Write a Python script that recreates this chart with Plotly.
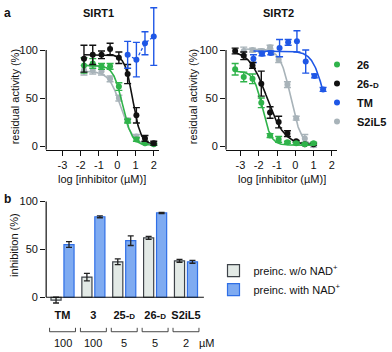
import numpy as np
import plotly.graph_objects as go

W, H = 392, 352
FONT = "Liberation Sans, Arial, sans-serif"

# ---------------- data: panel a, SIRT1 ----------------
s1_log_conc = [-1.82, -1.34, -0.86, -0.39, 0.09, 0.57, 1.05, 1.52, 2.0]
s1_26 = [84, 86, 83, 83, 62, 26, 7, 3, 2]
s1_26_err = [8, 5, 3, 3, 4, 2, 2, 1, 1]
s1_26D = [91, 95, 95, 101, 92, 75, 32, 8, 3]
s1_26D_err = [14, 10, 4, 6, 6, 10, 8, 3, 2]
s1_S2iL5 = [79, 79, 78, 70, 50, 27, 10, 3, 2]
s1_S2iL5_err = [5, 4, 4, 3, 3, 2, 2, 1, 1]
s1_tm_log_conc = [0.57, 1.05, 1.52, 2.0]
s1_TM = [95, 90, 107, 114]
s1_TM_err = [14, 18, 12, 30]

# fit parameters [top, bottom, logIC50, hill]
s1_fit_26 = [84, 1, 0.3, 1.7]
s1_fit_26D = [95, 2, 0.85, 2.0]
s1_fit_S2iL5 = [78, 1, 0.22, 1.3]

# ---------------- data: panel a, SIRT2 ----------------
s2_log_conc = [-3.29, -2.82, -2.34, -1.86, -1.38, -0.91, -0.43, 0.05, 0.52, 1.0]
s2_26 = [80, 72, 70, 45, 11, 7, 4, 3, 2, 3]
s2_26_err = [6, 5, 5, 5, 2, 3, 1, 1, 1, 1]
s2_26D = [99, 94, 84, 65, 35, 25, 13, 5, 2, 2]
s2_26D_err = [3, 4, 3, 13, 6, 6, 3, 1, 1, 1]
s2_s2il5_log_conc = [-2.82, -2.34, -1.86, -1.38, -0.91, -0.43, 0.05, 0.52, 1.0]
s2_S2iL5 = [99, 100, 99, 103, 90, 64, 29, 8, 1]
s2_S2iL5_err = [4, 2, 2, 2, 3, 3, 2, 4, 2]
s2_tm_log_conc = [-2.29, -1.82, -1.34, -0.86, -0.39, 0.09, 0.57, 1.05, 1.52]
s2_TM = [91, 96, 97, 102, 108, 109, 88, 73, 59]
s2_TM_err = [4, 2, 2, 9, 3, 11, 12, 2, 2]

s2_fit_26 = [78, 1, -1.8, 1.8]
s2_fit_26D = [100, 1, -1.55, 0.9]
s2_fit_S2iL5 = [101, 0, -0.25, 1.5]
s2_fit_TM = [99, 0, 1.62, 1.3]

a_x_tickvals = [-3, -2, -1, 0, 1, 2]
a_x_ticktext = ["-3", "-2", "-1", "0", "1", "2"]
a_y_tickvals = [0, 50, 100]

# ---------------- data: panel b ----------------
b_categories = ["TM", "3", "25-D", "26-D", "S2iL5"]
b_labels = ["<b>TM</b>", "<b>3</b>",
            "<b>25-<span style='font-size:8px'>D</span></b>",
            "<b>26-<span style='font-size:8px'>D</span></b>",
            "<b>S2iL5</b>"]
b_conc = ["100", "100", "5", "5", "2"]
b_conc_unit = "µM"
b_wo_nad = [-3, 21, 37, 62, 38]
b_wo_nad_err = [3, 4, 3, 1.5, 1.5]
b_with_nad = [55, 84, 59, 88, 37]
b_with_nad_err = [3, 1, 5, 0.6, 1.5]

GREEN = "#2fb34a"
BLACK = "#111111"
BLUE = "#1f57e6"
GREY = "#a8b3b9"


def four_pl(x, p):
    top, bottom, logic50, hill = p
    x = np.asarray(x, dtype=float)
    return bottom + (top - bottom) / (1 + 10 ** (hill * (x - logic50)))


def px_x(p):
    return p / W


def px_y(p):
    return 1 - p / H


fig = go.Figure()


def add_points(x, y, err, color, xa, ya, name=None, show=False, rank=None, mode="markers", dash=None):
    fig.add_trace(go.Scatter(
        x=x, y=y, mode=mode, xaxis=xa, yaxis=ya,
        marker=dict(color=color, size=6),
        line=dict(color=color, width=1.3, dash=dash) if "lines" in mode else None,
        error_y=dict(type="data", array=err, color=color, thickness=1.4, width=3.5),
        name=name, showlegend=show, legendrank=rank, legend="legend",
        cliponaxis=False,
    ))


def add_curve(xmin, xmax, p, color, xa, ya):
    xs = np.linspace(xmin, xmax, 200)
    fig.add_trace(go.Scatter(
        x=xs, y=four_pl(xs, p), mode="lines", xaxis=xa, yaxis=ya,
        line=dict(color=color, width=1.6), showlegend=False, hoverinfo="skip",
    ))


# SIRT1
add_curve(s1_log_conc[0], s1_log_conc[-1], s1_fit_S2iL5, GREY, "x", "y")
add_points(s1_log_conc, s1_S2iL5, s1_S2iL5_err, GREY, "x", "y")
add_curve(s1_log_conc[0], s1_log_conc[-1], s1_fit_26, GREEN, "x", "y")
add_points(s1_log_conc, s1_26, s1_26_err, GREEN, "x", "y")
add_curve(s1_log_conc[0], s1_log_conc[-1], s1_fit_26D, BLACK, "x", "y")
add_points(s1_log_conc, s1_26D, s1_26D_err, BLACK, "x", "y")
add_points(s1_tm_log_conc, s1_TM, s1_TM_err, BLUE, "x", "y", mode="lines+markers", dash="3px,2px")

# SIRT2
add_curve(s2_s2il5_log_conc[0], s2_s2il5_log_conc[-1], s2_fit_S2iL5, GREY, "x2", "y2")
add_points(s2_s2il5_log_conc, s2_S2iL5, s2_S2iL5_err, GREY, "x2", "y2",
           name="<b>S2iL5</b>", show=True, rank=4)
add_curve(s2_tm_log_conc[0], s2_tm_log_conc[-1], s2_fit_TM, BLUE, "x2", "y2")
add_points(s2_tm_log_conc, s2_TM, s2_TM_err, BLUE, "x2", "y2", name="<b>TM</b>", show=True, rank=3)
add_curve(s2_log_conc[0], s2_log_conc[-1], s2_fit_26D, BLACK, "x2", "y2")
add_points(s2_log_conc, s2_26D, s2_26D_err, BLACK, "x2", "y2",
           name="<b>26-<span style='font-size:8px'>D</span></b>", show=True, rank=2)
add_curve(s2_log_conc[0], s2_log_conc[-1], s2_fit_26, GREEN, "x2", "y2")
add_points(s2_log_conc, s2_26, s2_26_err, GREEN, "x2", "y2", name="<b>26</b>", show=True, rank=1)

# panel b bars
fig.add_trace(go.Bar(
    x=b_categories, y=b_wo_nad, xaxis="x3", yaxis="y3",
    name="preinc. w/o NAD<sup>+</sup>", legend="legend2",
    marker=dict(color="#e3eae6", line=dict(color="#3e4349", width=1.2)),
    error_y=dict(type="data", array=b_wo_nad_err, color="#222222", thickness=1.3, width=3),
))
fig.add_trace(go.Bar(
    x=b_categories, y=b_with_nad, xaxis="x3", yaxis="y3",
    name="preinc. with NAD<sup>+</sup>", legend="legend2",
    marker=dict(color="#7fabf1", line=dict(color="#2f6fe6", width=1.2)),
    error_y=dict(type="data", array=b_with_nad_err, color="#222222", thickness=1.3, width=3),
))

tickfont = dict(family=FONT, size=11, color="#111")
ax_common = dict(showgrid=False, zeroline=False, ticks="outside", ticklen=5, tickwidth=1,
                 tickcolor="#111", linecolor="#111", linewidth=1.2, tickfont=tickfont)

ya_dom = [px_y(147), px_y(0.8)]
fig.update_layout(
    width=W, height=H, margin=dict(l=0, r=0, t=0, b=0),
    paper_bgcolor="white", plot_bgcolor="rgba(0,0,0,0)",
    font=dict(family=FONT, size=11, color="#111"),
    xaxis=dict(domain=[px_x(48), px_x(165)], range=[-3.89, 2.27], anchor="y",
               tickvals=a_x_tickvals, ticktext=a_x_ticktext, showline=True, **ax_common),
    yaxis=dict(domain=ya_dom, range=[-3.7, 145], anchor="x",
               tickvals=a_y_tickvals, showline=False, **ax_common),
    xaxis2=dict(domain=[px_x(235), px_x(350)], range=[-3.79, 2.26], anchor="y2",
                tickvals=a_x_tickvals, ticktext=a_x_ticktext, showline=True, **ax_common),
    yaxis2=dict(domain=ya_dom, range=[-3.7, 145], anchor="x2",
                tickvals=a_y_tickvals, showline=False, **ax_common),
    xaxis3=dict(domain=[px_x(48), px_x(212)], range=[-0.53, 4.58], anchor="y3",
                type="category", tickvals=b_categories, ticktext=b_labels,
                showgrid=False, zeroline=False, showline=False, ticks="",
                tickfont=dict(family=FONT, size=11, color="#111")),
    yaxis3=dict(domain=[px_y(307.8), px_y(199.5)], range=[-10, 100.5], anchor="x3",
                tickvals=a_y_tickvals, showline=False, **ax_common),
    barmode="group", bargap=0.16, bargroupgap=0.22,
    legend=dict(x=px_x(330), y=px_y(45), xanchor="left", yanchor="top",
                bgcolor="rgba(0,0,0,0)", font=dict(family=FONT, size=11, color="#111")),
    legend2=dict(x=px_x(222), y=px_y(256), xanchor="left", yanchor="top",
                 bgcolor="rgba(0,0,0,0)", font=dict(family=FONT, size=11, color="#111")),
)

shapes = []
# y-axis lines of panel a (0..100 region) and axis lines of panel b
for xa, ya in [("x", "y"), ("x2", "y2")]:
    shapes.append(dict(type="line", xref=f"{xa} domain", yref=ya, x0=0, x1=0, y0=-3.7, y1=100,
                       line=dict(color="#111", width=1.2), layer="above"))
shapes.append(dict(type="line", xref="x3 domain", yref="y3", x0=0, x1=0, y0=0, y1=100,
                   line=dict(color="#111", width=1.2), layer="above"))
shapes.append(dict(type="line", xref="x3 domain", yref="y3", x0=0, x1=1, y0=0, y1=0,
                   line=dict(color="#111", width=1.2), layer="above"))
# concentration brackets
for i in range(len(b_categories)):
    y_lo, y_hi = px_y(333.3), px_y(329.3)
    for seg in [(i - 0.42, i + 0.42, y_lo, y_lo), (i - 0.42, i - 0.42, y_lo, y_hi),
                (i + 0.42, i + 0.42, y_lo, y_hi)]:
        shapes.append(dict(type="line", xref="x3", yref="paper", x0=seg[0], x1=seg[1],
                           y0=seg[2], y1=seg[3], line=dict(color="#333", width=0.9)))
fig.update_layout(shapes=shapes)

ann = []
def txt(x, y, s, size=11, bold=False, angle=0, xanchor="center", xref="paper"):
    ann.append(dict(x=x, y=y, xref=xref, yref="paper", text=f"<b>{s}</b>" if bold else s,
                    showarrow=False, textangle=angle, xanchor=xanchor, yanchor="middle",
                    font=dict(family=FONT, size=size, color="#111")))

txt(px_x(2), px_y(7), "a", size=12, bold=True, xanchor="left")
txt(px_x(2), px_y(197), "b", size=12, bold=True, xanchor="left")
txt(px_x(102), px_y(7), "SIRT1", bold=True)
txt(px_x(290), px_y(7), "SIRT2", bold=True)
txt(px_x(106), px_y(177), "log [inhibitor (µM)]")
txt(px_x(293), px_y(177), "log [inhibitor (µM)]")
txt(px_x(15), px_y(93), "residual activity (%)", angle=-90)
txt(px_x(201), px_y(93), "residual activity (%)", angle=-90)
txt(px_x(15), px_y(244), "inhibition (%)", angle=-90)
for i, c in enumerate(b_conc):
    txt(i, px_y(345), c, xref="x3")
txt(px_x(215), px_y(345), b_conc_unit)
fig.update_layout(annotations=ann)

fig.write_html("out.html", config={"displayModeBar": False},
               post_script="document.body.style.margin='0';")
